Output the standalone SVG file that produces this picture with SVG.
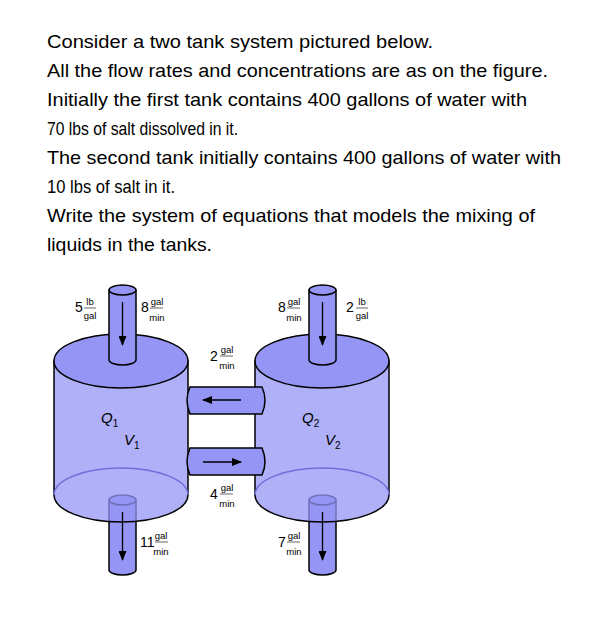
<svg xmlns="http://www.w3.org/2000/svg" width="613" height="636" viewBox="0 0 613 636">
<style>
.t{font-family:"Liberation Sans",Arial,sans-serif;font-size:18.5px;fill:#000}
.n{font-family:"Liberation Sans",Arial,sans-serif;font-size:14px;fill:#000}
.s{font-family:"Liberation Sans",Arial,sans-serif;font-size:9.5px;fill:#000;text-anchor:middle}
.v{font-family:"Liberation Sans",Arial,sans-serif;font-size:15px;font-style:italic;fill:#000}
.f{fill:#9595f5;stroke:#000;stroke-width:1.5}
.tk{fill:#9595f5;fill-opacity:0.75;stroke:#000;stroke-width:1.5}
.a{stroke:#000;stroke-width:1.3;fill:none;marker-end:url(#ah)}
</style>
<defs><marker id="ah" markerWidth="10" markerHeight="8" refX="9" refY="4" orient="auto" markerUnits="userSpaceOnUse"><path d="M0,0 L10,4 L0,8 z" fill="#000"/></marker></defs>
<rect width="613" height="636" fill="#fff"/>
<g id="text">
<text class="t" x="47" y="48" textLength="386" lengthAdjust="spacingAndGlyphs">Consider a two tank system pictured below.</text>
<text class="t" x="47" y="77" textLength="501" lengthAdjust="spacingAndGlyphs">All the flow rates and concentrations are as on the figure.</text>
<text class="t" x="47" y="106" textLength="480" lengthAdjust="spacingAndGlyphs">Initially the first tank contains 400 gallons of water with</text>
<text class="t" x="47" y="135" textLength="191" lengthAdjust="spacingAndGlyphs">70 lbs of salt dissolved in it.</text>
<text class="t" x="47" y="164" textLength="514" lengthAdjust="spacingAndGlyphs">The second tank initially contains 400 gallons of water with</text>
<text class="t" x="47" y="193" textLength="128" lengthAdjust="spacingAndGlyphs">10 lbs of salt in it.</text>
<text class="t" x="47" y="222" textLength="488" lengthAdjust="spacingAndGlyphs">Write the system of equations that models the mixing of</text>
<text class="t" x="47" y="251" textLength="165" lengthAdjust="spacingAndGlyphs">liquids in the tanks.</text>
</g>
<g id="outlets">
<path class="f" d="M109,500 L109,570 A13.5,5 0 0 0 136,570 L136,500"/>
<ellipse class="f" cx="122.5" cy="500" rx="13.5" ry="5"/>
<path class="f" d="M309,500 L309,570 A13.5,5 0 0 0 336,570 L336,500"/>
<ellipse class="f" cx="322.5" cy="500" rx="13.5" ry="5"/>
</g>
<g id="tank1">
<path class="tk" d="M54,361 L54,495 A67,27 0 0 0 188,495 L188,361 Z"/>
<path d="M54,495 A67,27 0 0 1 188,495" fill="none" stroke="#6e6ed8" stroke-width="1.5"/>
<ellipse class="f" cx="121" cy="361" rx="67" ry="27"/>
<path class="f" d="M109,290 L109,360 A13.5,5 0 0 0 136,360 L136,290"/>
<ellipse class="f" cx="122.5" cy="290" rx="13.5" ry="5"/>
<text class="v" x="101" y="423">Q<tspan font-size="10" font-style="normal" dy="4">1</tspan></text>
<text class="v" x="124" y="445">V<tspan font-size="10" font-style="normal" dy="4">1</tspan></text>
</g>
<g id="tank2">
<path class="tk" d="M255,361 L255,495 A67,27 0 0 0 389,495 L389,361 Z"/>
<path d="M255,495 A67,27 0 0 1 389,495" fill="none" stroke="#6e6ed8" stroke-width="1.5"/>
<ellipse class="f" cx="322" cy="361" rx="67" ry="27"/>
<path class="f" d="M309,290 L309,360 A13.5,5 0 0 0 336,360 L336,290"/>
<ellipse class="f" cx="322.5" cy="290" rx="13.5" ry="5"/>
<text class="v" x="302" y="423">Q<tspan font-size="10" font-style="normal" dy="4">2</tspan></text>
<text class="v" x="325" y="445">V<tspan font-size="10" font-style="normal" dy="4">2</tspan></text>
</g>
<g id="pipes">
<path class="f" d="M190,387 L262,387 Q268,400 262,414 L190,414 Q184,400 190,387 Z"/>
<path class="f" d="M190,448 L262,448 Q268,462 262,475 L190,475 Q184,462 190,448 Z"/>
</g>
<g id="connectors">
<line class="a" x1="122.5" y1="302" x2="122.5" y2="345"/>
<line class="a" x1="322.5" y1="302" x2="322.5" y2="345"/>
<line class="a" x1="122.5" y1="512" x2="122.5" y2="560"/>
<line class="a" x1="322.5" y1="512" x2="322.5" y2="560"/>
<line class="a" x1="241" y1="400" x2="203" y2="400"/>
<line class="a" x1="203" y1="462" x2="241" y2="462"/>
</g>
<g id="labels">
<text class="n" x="75" y="312">5</text><text class="s" x="90" y="305">lb</text><line x1="84" y1="308" x2="96" y2="308" stroke="#000" stroke-width="0.6"/><text class="s" x="90" y="319">gal</text>
<text class="n" x="141" y="312">8</text><text class="s" x="157" y="305">gal</text><line x1="150" y1="308" x2="163" y2="308" stroke="#000" stroke-width="0.6"/><text class="s" x="157" y="321">min</text>
<text class="n" x="278" y="312">8</text><text class="s" x="294" y="305">gal</text><line x1="287" y1="308" x2="300" y2="308" stroke="#000" stroke-width="0.6"/><text class="s" x="294" y="321">min</text>
<text class="n" x="346" y="312">2</text><text class="s" x="362" y="305">lb</text><line x1="356" y1="308" x2="368" y2="308" stroke="#000" stroke-width="0.6"/><text class="s" x="362" y="319">gal</text>
<text class="n" x="210" y="361">2</text><text class="s" x="227" y="353">gal</text><line x1="220" y1="356" x2="233" y2="356" stroke="#000" stroke-width="0.6"/><text class="s" x="227" y="369">min</text>
<text class="n" x="210" y="499">4</text><text class="s" x="227" y="491">gal</text><line x1="220" y1="494" x2="233" y2="494" stroke="#000" stroke-width="0.6"/><text class="s" x="227" y="507">min</text>
<text class="n" x="140" y="547">11</text><text class="s" x="161" y="539">gal</text><line x1="155" y1="542" x2="168" y2="542" stroke="#000" stroke-width="0.6"/><text class="s" x="161" y="555">min</text>
<text class="n" x="278" y="547">7</text><text class="s" x="294" y="539">gal</text><line x1="287" y1="542" x2="300" y2="542" stroke="#000" stroke-width="0.6"/><text class="s" x="294" y="555">min</text>
</g>
</svg>
